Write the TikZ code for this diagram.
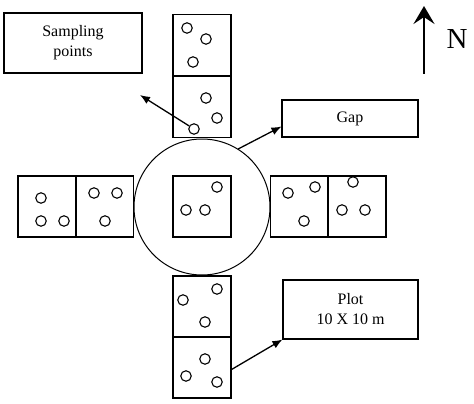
\documentclass[tikz,border=0pt]{standalone}
\usepackage{fontspec}
\setmainfont{Liberation Serif}
\usetikzlibrary{arrows.meta}
\begin{document}
\begin{tikzpicture}[x=1pt,y=-1pt,
  plotbox/.style={draw,line width=1.1pt,minimum width=58pt,minimum height=61pt,inner sep=0pt},
  samplept/.style={draw,circle,line width=1.1pt,minimum size=10.5pt,inner sep=0pt},
  labelbox/.style={draw,line width=1.1pt,align=center,inner sep=0pt,font=\fontsize{16}{20}\selectfont},
  pointer/.style={-{Latex[length=10pt,width=8pt]},line width=1.3pt}]
\useasboundingbox (0,0) rectangle (474,404);
% gap
\node[draw,circle,line width=1pt,minimum size=136pt,inner sep=0pt] at(202,207)(gap){};
% plots
\node[plotbox] at(202,45)(plotN1){};
\node[plotbox] at(202,107)(plotN2){};
\node[plotbox] at(47,206.5)(plotW1){};
\node[plotbox] at(104.5,206.5)(plotW2){};
\node[plotbox] at(202,206.5)(plotC){};
\node[plotbox] at(299.5,206.5)(plotE1){};
\node[plotbox] at(357,206.5)(plotE2){};
\node[plotbox] at(202,306.5)(plotS1){};
\node[plotbox] at(202,367.5)(plotS2){};
% sampling points
\foreach \x/\y [count=\i] in {187/28,206/39,193/62, 206/98,217/118,194/129,
    41/198,41/221,64/221, 94/193,117/193,105/221, 217/187,186/210,205/210,
    288/193,315/187,304/221, 353/182,342/210,365/210,
    183/300,217/289,205/322, 205/359,186/376,217/382}
  \node[samplept] at(\x,\y)(pt\i){};
% labels
\node[labelbox,minimum width=138pt,minimum height=60pt] at(73,43)(lblpts){Sampling\\points};
\node[labelbox,minimum width=136pt,minimum height=37pt] at(350,118.5)(lblgap){Gap};
\node[labelbox,minimum width=135pt,minimum height=59pt] at(350.5,309.5)(lblplot){Plot\\10 X 10 m};
\coordinate (ptstip) at(140,95);
\path[pointer]
    (pt6) edge (ptstip)
    (gap.58) edge ([yshift=-8pt]lblgap.west)
    ([yshift=-2pt]plotS2.east) edge (lblplot.south west);
% north
\coordinate (nfoot) at(424,74);
\coordinate (nhead) at(424,6);
\path[-{Stealth[length=18pt,width=21pt,inset=7pt]},line width=2.4pt] (nfoot) edge (nhead);
\node[font=\fontsize{29}{29}\selectfont] at(457,39)(north){N};
\end{tikzpicture}
\end{document}
